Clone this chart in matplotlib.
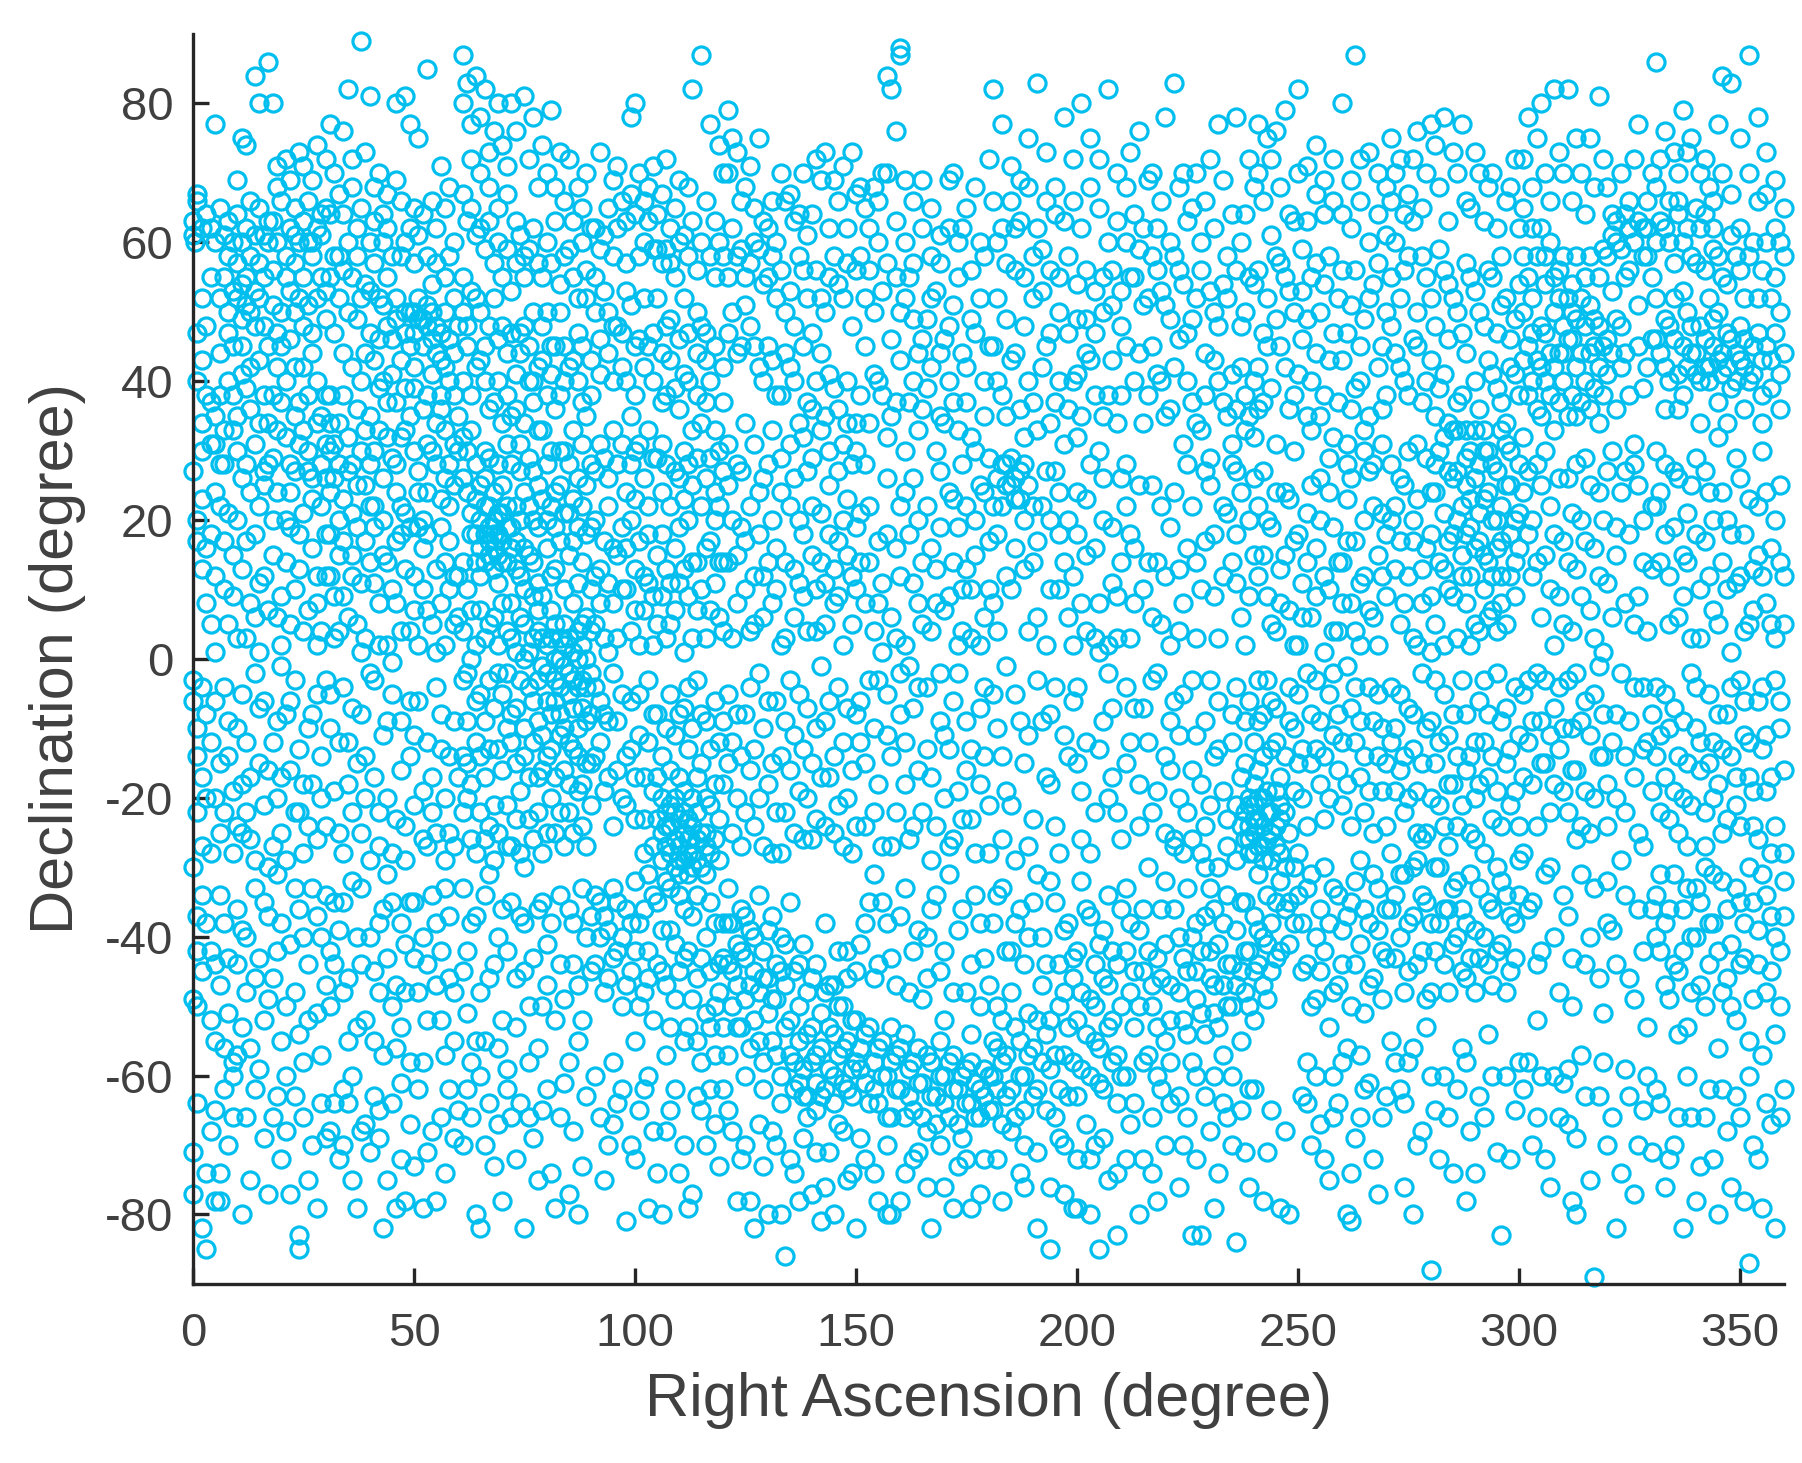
import matplotlib
matplotlib.use('Agg')
import matplotlib.pyplot as plt

# Star positions (RA, Dec) in degrees, grouped by 30 deg RA strips
stars_000 = [
    (0,61),(0,63),(1,66),(1,67),(2,62),(4,62),(7,61),(8,63),(9,60),(10,57),(12,62),(13,66),(14,61),(15,65),(16,61),
    (17,60),(18,63),(19,68),(17,86),(18,80),(19,71),(20,66),(21,72),(22,69),(23,65),(24,73),(25,71),(26,66),(27,69),
    (28,74),(29,64),(30,65),(31,77),(30,72),(11,75),(12,74),(10,69),(5,77),(14,84),(15,80),(24,60),(26,60),(28,62),
    (7,55),(9,53),(10,52),(12,55),(8,50),(11,49),(13,50),(14,48),(15,52),(16,55),(18,56),(19,47),(20,50),(22,53),
    (23,57),(24,52),(25,48),(26,51),(27,58),(29,55),(30,53),
    (1,47),(2,43),(3,38),(4,37),(5,35),(6,44),(8,40),(9,33),(10,30),(11,41),(12,39),(13,36),(14,31),(15,43),(16,38),
    (17,34),(18,29),(19,42),(20,37),(21,32),(22,46),(23,42),(24,37),(25,33),(26,30),(27,44),(28,40),(29,35),(30,31),
    (2,30),(5,31),(7,33),(11,45),(17,45),(25,42),
    (0,27),(1,20),(1,17),(2,13),(3,8),(4,18),(5,24),(6,22),(7,10),(8,5),(9,15),(10,20),(11,26),(12,3),(13,8),(14,18),
    (15,22),(16,12),(17,28),(18,20),(19,6),(20,2),(21,14),(22,24),(23,10),(24,18),(25,4),(26,27),(27,16),(28,8),
    (29,22),(30,12),(28,2),(5,1),(15,1),(22,19),(31,24),(30,26),(33,20),
    (0,-3),(0,-6),(1,-10),(2,-17),(1,-22),(2,-27),(3,-8),(4,-12),(5,-20),(6,-25),(7,-4),(8,-14),(9,-28),(10,-10),
    (11,-18),(12,-22),(13,-26),(14,-2),(15,-15),(16,-6),(17,-30),(18,-12),(19,-20),(20,-25),(21,-8),(22,-16),(23,-3),
    (24,-22),(25,-28),(26,-10),(27,-18),(28,-5),(29,-14),(30,-24),(11,-25),(20,-1),
    (0,-30),(2,-34),(1,-37),(2,-45),(0,-49),(1,-50),(4,-42),(5,-55),(6,-47),(7,-38),(8,-51),(9,-58),(10,-44),(11,-39),
    (12,-48),(13,-56),(14,-33),(15,-43),(16,-52),(17,-37),(18,-46),(19,-31),(20,-55),(22,-41),(23,-48),(24,-36),
    (25,-58),(26,-44),(27,-33),(28,-51),(29,-40),(30,-47),(9,-60),(10,-57),(21,-60),
    (0,-71),(0,-77),(2,-82),(3,-85),(5,-78),(6,-78),(3,-74),(5,-65),(7,-62),(8,-70),(12,-66),(13,-75),(16,-69),
    (19,-63),(20,-72),(24,-83),(24,-85),(25,-66),(27,-70),(29,-64),(22,-77),
    (0.5,60),(3,64),(5,60),(6,65),(8,58),(10,64),(11,60),(13,58),(15,57),(17,63),(19,60),(21,58),(22,62),(23,61),
    (25,63),(27,60),(29,61),(4,55),(6,52),(8,47),(9,45),(11,54),(12,51),(14,53),(16,48),(18,51),(20,45),(21,55),
    (23,50),(25,55),(27,47),(28,52),(30,49),(2,52),(3,48),
    (1,40),(2,34),(4,31),(6,38),(7,28),(9,38),(10,35),(12,28),(13,42),(15,34),(16,27),(18,38),(19,33),(21,40),(22,28),
    (23,35),(24,31),(26,38),(27,26),(28,34),(29,28),(30,38),
    (2,23),(3,16),(4,5),(5,12),(6,28),(7,17),(8,21),(9,9),(10,3),(11,13),(12,17),(13,24),(14,6),(15,11),(16,25),(17,7),
    (18,15),(19,24),(20,9),(21,20),(22,5),(23,27),(24,13),(25,21),(26,7),(27,23),(28,12),(29,4),(30,18),
    (1,-14),(2,-4),(3,-20),(4,-28),(5,-6),(6,-15),(7,-22),(8,-9),(9,-19),(10,-24),(11,-5),(12,-12),(13,-17),(14,-29),
    (15,-7),(16,-21),(17,-16),(18,-27),(19,-9),(20,-17),(21,-29),(22,-6),(23,-22),(24,-13),(25,-18),(26,-24),(27,-8),
    (28,-26),(29,-20),(30,-3),
    (1,-42),(3,-38),(4,-52),(5,-44),(6,-34),(7,-56),(8,-43),(10,-36),(11,-53),(12,-40),(14,-46),(15,-59),(16,-35),
    (17,-49),(19,-42),(20,-38),(21,-50),(23,-33),(24,-54),(25,-40),(26,-52),(28,-37),(29,-57),(30,-34),
    (1,-64),(4,-68),(6,-74),(9,-66),(11,-80),(14,-62),(17,-77),(18,-66),(21,-68),(23,-63),(26,-75),(28,-79),(30,-69),
]

stars_030 = [
    (38,89),(35,82),(40,81),(46,80),(48,81),(49,77),(51,75),(53,85),(36,72),(39,73),(42,70),(44,67),(47,66),(50,65),
    (52,64),(54,66),(56,71),(57,65),(59,60),(58,68),(33,67),(34,64),(37,62),(41,63),(43,60),(45,58),(48,60),(55,62),
    (32,58),(34,56),(36,55),(39,54),(41,57),(44,55),(46,52),(48,50),(50,50),(51,49),(52,49),(53,48),(54,50),(56,47),
    (58,46),(33,52),(35,50),(37,49),(40,47),(42,46),(44,48),(47,43),(49,45),(55,44),(57,42),(59,44),
    (31,38),(33,34),(35,32),(37,36),(38,30),(40,28),(42,33),(44,37),(45,29),(47,32),(49,35),(50,39),(51,27),(53,24),
    (54,30),(55,34),(57,26),(58,22),(59,31),(32,26),(34,23),(36,21),(39,25),(41,22),(43,20),(46,24),(48,21),(52,36),
    (56,38),(60,35),(38,40),(42,39),(45,41),(31,30),(35,27),(40,35),
    (31,18),(33,15),(34,9),(36,12),(37,5),(39,17),(41,11),(42,2),(44,14),(46,8),(47,18),(49,4),(50,12),(52,16),
    (53,7),(55,1),(56,19),(58,10),(59,5),(32,3),(38,1),(45,-0.5),(51,19),(57,14),
    (31,-5),(33,-12),(35,-18),(36,-7),(38,-25),(39,-14),(41,-3),(42,-22),(44,-9),(45,-28),(47,-16),(48,-24),(49,-6),
    (50,-11),(52,-19),(53,-27),(54,-22),(55,-4),(56,-13),(58,-25),(59,-9),(34,-28),(40,-29),(57,-29),
    (31,-42),(32,-35),(34,-48),(35,-55),(37,-40),(38,-33),(39,-52),(41,-45),(42,-38),(43,-57),(44,-31),(46,-47),
    (47,-53),(48,-41),(49,-35),(51,-48),(52,-58),(53,-44),(55,-38),(56,-52),(57,-33),(58,-46),(59,-55),(36,-60),
    (50,-43),(45,-50),
    (31,-68),(33,-72),(35,-64),(37,-79),(38,-68),(39,-67),(41,-63),(42,-65),(44,-75),(46,-79),(48,-78),(50,-73),
    (53,-71),(55,-78),(56,-66),(58,-62),(59,-69),(47,-61),(43,-82),(34,-62),
    (31,64),(32,70),(34,76),(36,68),(37,58),(38,65),(40,60),(41,68),(43,64),(44,62),(46,69),(47,58),(49,62),(50,57),
    (51,61),(53,58),(54,54),(55,57),(57,55),(58,58),(59,52),(60,48),(31,55),(33,58),(35,60),(38,52),(40,53),(42,52),
    (43,51),(45,46),(46,49),(48,47),(49,50),(50,47),(51,52),(52,45),(53,51),(54,46),(55,48),(56,43),(57,50),(58,40),
    (59,38),(32,47),(34,44),(36,42),(39,44),(41,43),(43,40),(46,37),(48,39),(50,42),(53,38),(54,41),(56,36),
    (31,34),(32,31),(33,28),(34,38),(36,28),(37,25),(39,33),(40,22),(41,30),(43,26),(44,32),(46,28),(47,22),(48,33),
    (50,30),(51,24),(52,20),(53,31),(55,28),(56,23),(57,33),(58,28),(59,25),(60,30),
    (31,12),(32,9),(33,4),(34,17),(35,6),(36,15),(37,19),(38,11),(39,3),(40,14),(41,19),(42,8),(43,15),(44,2),(45,10),
    (46,17),(47,4),(48,13),(49,19),(50,7),(51,2),(52,10),(53,18),(54,5),(55,13),(56,8),(57,2),(58,17),(59,12),(60,6),
    (31,-10),(32,-19),(33,-25),(34,-4),(35,-12),(36,-22),(37,-15),(38,-8),(39,-20),(40,-2),(41,-17),(42,-27),(43,-11),
    (44,-20),(45,-5),(46,-23),(47,-9),(48,-29),(49,-14),(50,-21),(51,-6),(52,-26),(53,-12),(54,-17),(55,-25),(56,-8),
    (57,-20),(58,-14),(59,-27),(60,-17),
    (31,-50),(32,-44),(33,-39),(34,-35),(35,-46),(36,-32),(37,-53),(38,-44),(40,-40),(41,-55),(42,-48),(43,-36),
    (44,-43),(45,-35),(46,-56),(47,-38),(48,-48),(49,-58),(50,-35),(52,-40),(53,-52),(54,-34),(55,-47),(56,-42),
    (57,-57),(58,-37),(59,-48),
    (32,-64),(34,-70),(36,-75),(40,-71),(42,-69),(45,-64),(47,-72),(49,-67),(51,-62),(52,-79),(54,-68),(57,-74),(60,-65),
]

stars_060 = [
    (61,87),(62,83),(64,84),(66,82),(68,76),(70,74),(72,80),(75,81),(77,78),(79,74),(81,79),(83,73),(85,72),(87,68),
    (89,70),(63,72),(65,70),(67,68),(69,65),(71,67),(73,63),(74,61),(76,59),(78,57),(80,60),(82,63),(84,58),(86,55),
    (88,60),(62,63),(64,61),(66,59),(68,57),(70,55),(72,53),(75,55),(77,50),(79,48),(81,45),(83,50),(85,42),(87,47),
    (89,52),(61,55),(63,53),(65,50),(67,48),(69,46),(71,44),(73,41),(74,47),(76,40),(78,42),(80,38),(82,36),(84,40),
    (86,33),(88,37),(90,43),(62,45),(64,42),(66,40),(68,37),(70,34),(72,35),
    (63,21),(64,18),(65,16),(65,20),(66,14),(66,18),(66,22),(67,15),(67,17),(67,19),(68,13),(68,16),(68,20),(68,24),
    (69,15),(69,18),(70,17),(70,21),(71,14),(71,19),(72,16),(73,22),(65,25),(64,28),(62,30),(61,26),(63,33),(66,30),
    (69,28),(71,31),(74,27),(75,24),(76,29),(77,20),(78,25),(79,33),(80,28),(81,22),(82,19),(83,25),(84,30),(85,21),
    (86,17),(87,26),(88,22),(89,18),(90,28),(74,12),(76,15),(78,11),(80,16),(82,13),(84,10),(61,14),(62,10),(63,7),
    (60,12),
    (64,2),(65,-5),(67,5),(69,-2),(70,8),(72,3),(73,-7),(74,6),(75,0),(76,-4),(77,9),(78,4),(79,-1),(80,2),(80,-6),
    (81,7),(82,0),(82,-3),(83,3),(83,-8),(84,-1),(84,5),(85,-2),(85,-5),(86,1),(86,8),(87,-4),(87,4),(88,-7),(88,2),
    (89,-9),(89,6),(90,-2),(61,-3),(62,-9),(71,-10),(78,-9),
    (61,-14),(62,-20),(63,-26),(64,-12),(66,-17),(67,-24),(68,-29),(69,-13),(71,-21),(72,-27),(73,-15),(74,-19),
    (76,-23),(77,-12),(78,-17),(79,-28),(80,-14),(81,-20),(82,-25),(83,-11),(84,-16),(85,-22),(86,-13),(87,-19),
    (88,-24),(89,-15),(90,-21),(65,-22),(75,-30),
    (61,-33),(62,-42),(64,-37),(65,-48),(66,-55),(67,-31),(68,-44),(69,-40),(70,-52),(72,-35),(73,-46),(75,-38),
    (76,-50),(77,-43),(79,-35),(80,-47),(81,-38),(83,-34),(84,-49),(85,-36),(86,-44),(87,-55),(88,-33),(89,-40),
    (90,-37),(63,-58),(71,-59),(78,-56),
    (62,-62),(64,-80),(65,-82),(67,-64),(69,-67),(71,-62),(73,-72),(75,-82),(77,-69),(79,-65),(81,-74),(83,-66),
    (85,-77),(87,-80),(89,-63),(66,-70),(74,-64),(84,-61),
    (61,80),(63,77),(65,78),(67,73),(69,80),(71,71),(73,76),(76,72),(78,68),(80,70),(82,68),(84,66),(86,63),(88,65),
    (90,62),(61,67),(63,65),(65,62),(67,63),(69,60),(71,59),(73,57),(75,58),(77,62),(79,55),(81,57),(83,54),(85,59),
    (87,52),(89,56),(61,50),(62,48),(64,52),(66,45),(68,52),(70,48),(72,47),(74,44),(75,48),(76,45),(77,40),(79,43),
    (80,50),(81,41),(82,45),(83,38),(84,45),(86,43),(87,40),(88,45),(89,35),(90,38),(61,40),(63,38),(65,43),(67,36),
    (69,40),(71,38),(73,36),(75,34),(77,37),(78,33),
    (61,32),(62,24),(63,18),(64,23),(64,14),(65,12),(66,26),(67,22),(67,29),(68,18),(69,21),(69,11),(70,14),(70,25),
    (71,22),(72,19),(72,28),(73,17),(73,13),(74,20),(74,31),(75,16),(75,10),(76,22),(77,27),(77,14),(78,19),(79,23),
    (79,9),(80,20),(81,12),(81,30),(82,24),(83,17),(83,30),(84,21),(85,15),(85,28),(86,23),(87,11),(87,19),(88,14),
    (88,31),(89,25),(90,10),(90,19),
    (61,4),(62,-2),(63,0),(64,-6),(65,7),(66,3),(66,-9),(67,-3),(68,6),(68,-7),(69,2),(70,-5),(71,4),(71,-2),(72,8),
    (72,-8),(73,1),(74,-3),(75,5),(75,-10),(76,1),(77,-6),(77,3),(78,-3),(78,7),(79,3),(79,-11),(80,-2),(81,-8),
    (81,3),(82,5),(82,-6),(83,-4),(83,0),(84,-10),(84,2),(85,3),(85,-12),(86,-3),(86,-7),(87,0),(87,-10),(88,5),
    (88,-3),(89,0),(89,-4),(90,4),(90,-8),
    (61,-22),(62,-15),(63,-18),(64,-28),(65,-14),(66,-26),(67,-13),(68,-21),(69,-25),(70,-16),(71,-27),(72,-12),
    (73,-23),(74,-28),(75,-14),(76,-17),(77,-26),(78,-22),(79,-16),(80,-25),(81,-13),(82,-17),(83,-22),(84,-27),
    (85,-18),(86,-25),(87,-14),(88,-18),(89,-27),(90,-15),
    (61,-45),(62,-51),(63,-38),(64,-55),(66,-34),(67,-46),(69,-56),(70,-36),(71,-42),(73,-53),(74,-37),(75,-45),
    (76,-58),(78,-36),(79,-50),(80,-41),(82,-52),(83,-44),(85,-58),(86,-38),(87,-47),(88,-52),(90,-45),
    (61,-70),(63,-66),(65,-60),(68,-73),(70,-78),(72,-66),(76,-66),(78,-75),(80,-62),(82,-79),(86,-68),(88,-73),
]

stars_090 = [
    (93,61),(95,58),(97,66),(99,78),(100,80),(101,70),(103,68),(104,59),(106,57),(108,62),(110,60),(112,68),(113,82),
    (115,87),(117,77),(119,74),(92,73),(96,71),(98,63),(102,60),(105,64),(107,59),(109,55),(111,52),(114,50),(116,47),
    (118,55),(120,58),(91,55),(94,50),(96,48),(98,53),(100,45),(102,42),(104,47),(106,44),(108,49),(110,36),(112,40),
    (114,38),(116,43),(118,33),(120,37),(92,46),(95,40),(97,42),(99,35),(101,31),(103,33),(105,29),(107,38),(109,27),
    (111,30),(113,25),(115,34),(117,29),(119,22),
    (91,20),(92,13),(93,17),(94,22),(95,8),(96,15),(97,19),(98,10),(99,4),(100,13),(101,17),(102,7),(103,11),(104,2),
    (105,15),(106,9),(107,13),(108,5),(109,16),(110,11),(111,1),(112,20),(113,14),(114,7),(115,22),(116,3),(117,17),
    (118,11),(119,6),(120,14),(94,1),(100,23),(106,24),(91,5),
    (91,-4),(92,-12),(93,-8),(94,-17),(95,-2),(96,-9),(97,-20),(98,-14),(99,-6),(100,-23),(101,-11),(102,-17),
    (103,-3),(104,-19),(105,-8),(106,-14),(107,-22),(108,-5),(109,-11),(110,-17),(111,-7),(112,-13),(113,-20),
    (114,-3),(115,-15),(116,-9),(117,-21),(118,-6),(119,-12),(120,-18),
    (106,-25),(107,-27),(108,-24),(108,-28),(109,-26),(109,-30),(110,-23),(110,-27),(111,-25),(111,-29),(112,-26),
    (112,-31),(113,-24),(113,-28),(114,-26),(115,-30),(116,-25),(117,-28),(104,-27),(103,-31),
    (91,-34),(92,-40),(93,-37),(94,-46),(95,-33),(96,-42),(97,-50),(98,-36),(99,-45),(100,-55),(101,-38),(102,-48),
    (103,-42),(104,-52),(105,-35),(106,-45),(107,-57),(108,-39),(109,-49),(110,-34),(111,-43),(112,-53),(113,-37),
    (114,-46),(115,-58),(116,-40),(117,-35),(118,-50),(119,-44),(120,-38),(95,-58),(100,-32),(117,-53),
    (92,-66),(94,-70),(96,-64),(98,-81),(100,-72),(102,-62),(104,-68),(106,-80),(108,-65),(110,-74),(112,-79),
    (114,-63),(116,-70),(118,-67),(120,-62),(103,-79),
    (91,62),(92,59),(94,65),(95,69),(96,62),(98,57),(99,67),(100,64),(101,58),(102,66),(103,63),(104,71),(105,59),
    (106,67),(107,72),(108,57),(109,65),(110,69),(111,61),(112,58),(113,63),(114,56),(115,60),(116,66),(117,58),
    (118,63),(119,60),(120,70),(91,50),(92,41),(93,53),(94,44),(95,48),(97,47),(98,40),(99,51),(100,38),(101,46),
    (102,52),(103,45),(104,40),(105,52),(106,37),(107,48),(108,43),(109,39),(110,46),(111,41),(112,47),(113,33),
    (114,44),(115,48),(116,37),(117,40),(118,45),(119,30),(120,42),
    (91,27),(92,31),(93,29),(94,26),(95,33),(96,28),(97,31),(98,24),(99,28),(100,30),(102,26),(103,22),(104,29),
    (106,31),(107,28),(108,22),(110,26),(111,23),(112,28),(114,29),(116,26),(118,24),(120,27),
    (91,12),(92,8),(93,3),(94,11),(95,16),(96,3),(97,10),(98,16),(99,20),(100,7),(101,2),(102,12),(103,18),(104,9),
    (105,5),(106,18),(107,3),(108,11),(109,7),(110,19),(111,13),(112,9),(113,3),(114,14),(115,10),(116,16),(117,7),
    (118,20),(119,14),(120,4),
    (91,-14),(92,-6),(93,-19),(94,-9),(95,-24),(96,-16),(97,-5),(98,-21),(99,-13),(100,-17),(101,-5),(102,-23),
    (103,-12),(104,-8),(105,-17),(106,-20),(107,-10),(108,-16),(109,-20),(110,-8),(111,-19),(112,-4),(113,-10),
    (114,-17),(115,-8),(116,-20),(117,-13),(118,-18),(119,-23),(120,-9),
    (105,-23),(106,-29),(107,-24),(107,-32),(108,-21),(109,-22),(110,-29),(110,-31),(111,-22),(112,-23),(112,-28),
    (113,-30),(114,-22),(114,-29),(115,-25),(116,-27),(116,-31),(118,-26),(119,-29),(102,-28),
    (91,-44),(92,-35),(93,-48),(94,-39),(95,-43),(96,-35),(97,-40),(98,-47),(99,-38),(100,-42),(101,-50),(102,-36),
    (103,-46),(104,-34),(105,-44),(106,-39),(107,-47),(108,-33),(108,-53),(109,-41),(110,-45),(111,-36),(111,-55),
    (112,-42),(113,-49),(114,-34),(114,-55),(115,-43),(116,-51),(117,-45),(118,-38),(118,-57),(119,-48),(120,-43),
    (120,-53),
    (91,-60),(93,-75),(95,-67),(97,-62),(99,-70),(101,-65),(103,-60),(105,-74),(107,-68),(109,-62),(111,-70),
    (113,-77),(115,-65),(117,-62),(119,-73),
]

stars_120 = [
    (121,79),(123,73),(125,68),(127,65),(129,63),(131,66),(133,70),(135,67),(137,64),(139,61),(141,72),(143,73),
    (145,69),(147,71),(149,73),(122,62),(124,59),(126,57),(128,59),(130,55),(132,52),(134,50),(136,48),(138,56),
    (140,47),(142,52),(144,55),(146,54),(148,57),(150,56),(121,47),(123,44),(125,51),(127,45),(129,40),(131,43),
    (133,38),(135,42),(137,34),(139,37),(141,40),(143,35),(145,39),(147,31),(149,28),
    (121,25),(122,20),(123,15),(124,27),(125,10),(126,22),(127,5),(128,18),(129,12),(130,28),(131,8),(132,16),
    (133,24),(134,3),(135,31),(136,13),(137,20),(138,9),(139,27),(140,15),(141,4),(142,21),(143,11),(144,25),(145,8),
    (146,17),(147,2),(148,23),(149,12),(150,19),
    (121,-5),(122,-12),(123,-20),(124,-27),(125,-8),(126,-16),(127,-24),(128,-2),(129,-10),(130,-18),(131,-28),
    (132,-6),(133,-14),(134,-22),(135,-3),(136,-11),(137,-19),(138,-26),(139,-7),(140,-15),(141,-23),(142,-1),
    (143,-9),(144,-17),(145,-25),(146,-4),(147,-12),(148,-20),(149,-28),(150,-8),
    (121,-33),(121,-44),(122,-38),(122,-50),(123,-41),(123,-47),(124,-36),(124,-53),(125,-43),(125,-49),(126,-39),
    (126,-56),(127,-45),(127,-52),(128,-34),(128,-48),(129,-42),(129,-58),(130,-46),(130,-51),(131,-37),(131,-55),
    (132,-44),(132,-49),(133,-40),(133,-60),(134,-47),(134,-53),(135,-35),(135,-57),(136,-45),(136,-62),(137,-50),
    (137,-55),(138,-41),(138,-59),(139,-48),(139,-63),(140,-53),(140,-58),(141,-44),(141,-61),(142,-51),(142,-56),
    (143,-38),(143,-62),(144,-47),(144,-59),(145,-54),(145,-64),(146,-42),(146,-57),(147,-50),(147,-61),(148,-46),
    (148,-55),(149,-59),(149,-63),(150,-52),(150,-45),
    (122,-68),(124,-72),(126,-78),(128,-67),(130,-80),(132,-70),(134,-86),(136,-74),(138,-69),(140,-77),(142,-81),
    (144,-71),(146,-67),(148,-75),(150,-82),
    (121,70),(122,75),(124,66),(126,71),(128,75),(130,62),(132,60),(134,66),(136,63),(138,70),(140,64),(142,69),
    (144,62),(146,66),(148,62),(150,67),(121,55),(123,58),(125,55),(127,60),(129,54),(131,58),(133,56),(135,53),
    (137,58),(139,52),(141,56),(143,50),(145,58),(147,52),(149,48),(122,50),(124,45),(126,48),(128,42),(130,45),
    (132,38),(134,44),(136,40),(138,45),(140,36),(142,44),(144,41),(146,36),(148,40),(150,34),
    (121,31),(123,28),(125,34),(127,31),(129,26),(131,33),(133,29),(136,26),(138,32),(140,29),(142,33),(144,30),
    (146,27),(148,34),(150,30),
    (121,14),(122,3),(123,8),(124,19),(125,17),(126,4),(127,12),(128,24),(129,6),(130,14),(131,20),(132,10),(133,2),
    (134,14),(135,22),(136,6),(137,11),(138,18),(139,4),(140,22),(141,10),(142,14),(143,5),(144,18),(145,13),(146,9),
    (147,20),(148,15),(149,5),(150,10),
    (121,-15),(122,-25),(123,-8),(124,-14),(125,-22),(126,-4),(127,-13),(128,-20),(129,-27),(130,-6),(131,-15),
    (132,-22),(133,-28),(134,-9),(135,-16),(136,-25),(137,-5),(138,-13),(139,-20),(140,-26),(141,-10),(142,-17),
    (143,-24),(144,-6),(145,-14),(146,-21),(147,-27),(148,-7),(149,-16),(150,-24),
    (121,-38),(122,-45),(123,-53),(124,-42),(125,-37),(126,-47),(127,-40),(128,-55),(129,-46),(130,-39),(131,-49),
    (132,-57),(133,-45),(134,-41),(135,-52),(136,-58),(137,-44),(138,-63),(139,-54),(140,-46),(141,-57),(142,-63),
    (143,-48),(144,-53),(145,-60),(146,-50),(147,-56),(148,-62),(149,-52),(150,-58),(121,-57),(125,-60),(129,-62),
    (133,-64),(137,-61),(141,-65),(145,-47),(148,-42),
    (121,-65),(123,-78),(125,-70),(127,-82),(129,-73),(131,-68),(133,-80),(135,-72),(137,-78),(139,-66),(141,-71),
    (143,-76),(145,-80),(147,-68),(149,-74),
]

stars_150 = [
    (152,65),(154,68),(156,70),(157,84),(158,82),(159,76),(161,69),(163,66),(165,62),(167,58),(169,61),(171,69),
    (172,70),(174,62),(176,56),(178,60),(180,72),(160,87),(160,88),(151,58),(153,56),(155,60),(157,57),(159,55),
    (161,52),(163,49),(165,46),(167,52),(169,44),(171,48),(173,55),(175,42),(177,47),(179,40),(152,45),(154,41),
    (156,38),(158,35),(160,43),(162,37),(164,33),(166,39),(168,30),(170,34),(172,37),(174,28),(176,32),(178,25),
    (180,29),
    (151,21),(153,14),(155,8),(157,18),(159,3),(161,24),(163,11),(165,5),(167,16),(169,27),(171,9),(173,2),(175,13),
    (177,20),(179,6),(152,28),(156,1),(160,12),(164,20),(168,8),(172,23),(176,3),(180,17),(174,10),
    (151,-6),(152,-15),(154,-22),(155,-3),(157,-11),(158,-27),(160,-8),(161,-18),(163,-24),(164,-4),(166,-13),
    (167,-29),(169,-9),(170,-20),(172,-26),(173,-2),(175,-16),(176,-23),(178,-7),(179,-14),(180,-28),(162,-1),
    (171,-13),
    (151,-41),(153,-35),(155,-44),(157,-38),(159,-47),(161,-33),(163,-42),(165,-49),(167,-36),(169,-45),(171,-31),
    (173,-39),(175,-48),(177,-34),(179,-43),(154,-31),(166,-40),(178,-50),
    (151,-56),(152,-61),(153,-53),(154,-58),(155,-64),(156,-55),(157,-60),(158,-66),(159,-57),(160,-62),(161,-54),
    (162,-59),(163,-65),(164,-56),(165,-61),(166,-68),(167,-58),(168,-63),(169,-55),(170,-60),(171,-66),(172,-57),
    (173,-62),(174,-69),(175,-59),(176,-64),(177,-61),(178,-66),(179,-63),(180,-60),(181,-65),(182,-62),(183,-67),
    (158,-53),(170,-52),(176,-54),
    (152,-72),(155,-78),(158,-80),(161,-74),(164,-71),(167,-82),(170,-76),(173,-73),(176,-79),(179,-72),(157,-80),
    (151,68),(153,62),(155,66),(157,70),(159,63),(161,60),(163,57),(165,69),(167,65),(169,57),(171,62),(173,60),
    (175,65),(177,68),(179,58),(152,52),(154,50),(156,53),(158,46),(160,50),(162,55),(164,44),(166,49),(168,53),
    (170,46),(172,51),(174,44),(176,49),(178,52),(180,45),(151,38),(153,34),(155,40),(157,32),(159,37),(161,30),
    (163,40),(165,36),(167,42),(169,35),(171,40),(173,33),(175,37),(177,30),(179,35),
    (151,14),(152,8),(153,22),(154,4),(155,17),(156,11),(157,26),(158,6),(159,16),(160,22),(161,2),(162,18),(163,26),
    (164,8),(165,14),(166,22),(167,4),(168,13),(169,19),(170,7),(171,24),(172,14),(173,19),(174,4),(175,22),(176,10),
    (177,15),(178,2),(179,24),(180,10),
    (151,-12),(152,-24),(153,-3),(154,-10),(155,-18),(156,-27),(157,-5),(158,-14),(159,-22),(160,-2),(161,-12),
    (162,-26),(163,-7),(164,-16),(165,-22),(166,-4),(167,-17),(168,-24),(169,-2),(170,-11),(171,-27),(172,-6),
    (173,-19),(174,-23),(175,-9),(176,-13),(177,-28),(178,-18),(179,-4),(180,-21),
    (152,-38),(154,-46),(156,-35),(158,-43),(160,-37),(162,-48),(164,-39),(166,-46),(168,-34),(170,-42),(172,-48),
    (174,-36),(176,-44),(178,-38),(180,-47),
    (151,-59),(152,-54),(153,-64),(154,-62),(155,-56),(156,-60),(157,-66),(158,-58),(159,-62),(160,-56),(161,-66),
    (162,-63),(163,-58),(164,-61),(165,-66),(166,-57),(167,-63),(168,-67),(169,-60),(170,-64),(171,-58),(172,-62),
    (173,-67),(174,-60),(175,-64),(176,-58),(177,-66),(178,-62),(179,-59),(180,-65),
    (151,-69),(154,-74),(157,-70),(160,-78),(163,-72),(166,-76),(169,-70),(172,-79),(175,-72),(178,-77),
]

stars_180 = [
    (181,82),(183,77),(185,71),(187,69),(189,75),(191,83),(193,66),(195,64),(197,78),(199,72),(201,80),(203,75),
    (205,65),(207,82),(209,63),(182,60),(184,57),(186,62),(188,55),(190,58),(192,53),(194,56),(196,50),(198,47),
    (200,54),(202,49),(204,53),(206,55),(208,51),(210,48),(181,45),(183,38),(185,43),(187,36),(189,40),(191,33),
    (193,45),(195,37),(197,31),(199,40),(200,41),(201,35),(203,43),(205,30),(207,38),(209,34),
    (182,26),(183,22),(184,28),(185,25),(186,23),(187,27),(188,20),(186,16),(184,12),(190,14),(192,22),(194,10),
    (196,18),(198,6),(200,24),(202,15),(204,3),(206,20),(208,11),(210,26),(181,8),(189,4),(195,27),(203,28),(207,2),
    (199,12),
    (181,-5),(183,-14),(185,-21),(187,-9),(189,-27),(191,-3),(193,-17),(195,-24),(197,-11),(199,-6),(201,-19),
    (203,-28),(205,-13),(207,-2),(209,-22),(186,-29),(194,-8),(200,-15),(208,-7),(184,-1),
    (181,-38),(183,-33),(185,-42),(187,-36),(189,-40),(191,-31),(193,-44),(195,-35),(197,-39),(199,-43),(201,-32),
    (203,-37),(205,-41),(207,-34),(209,-44),
    (181,-55),(182,-50),(183,-58),(184,-63),(185,-48),(186,-53),(187,-60),(188,-65),(189,-51),(190,-56),(191,-62),
    (192,-47),(193,-54),(194,-59),(195,-66),(196,-50),(197,-57),(198,-63),(199,-46),(200,-52),(201,-59),(202,-67),
    (203,-49),(204,-55),(205,-61),(206,-46),(207,-53),(208,-58),(209,-64),(210,-50),(188,-70),(196,-69),(204,-70),
    (183,-78),(187,-74),(191,-82),(194,-85),(197,-77),(200,-72),(203,-80),(205,-85),(207,-75),(209,-83),(199,-79),
    (181,66),(183,62),(185,66),(187,63),(189,68),(191,62),(193,73),(195,68),(197,63),(199,66),(201,62),(203,68),
    (205,72),(207,60),(209,70),(182,52),(184,49),(186,56),(188,48),(190,52),(192,59),(194,47),(196,55),(198,58),
    (200,49),(202,56),(204,47),(206,50),(208,56),(210,53),(182,40),(184,35),(186,44),(188,32),(190,37),(192,42),
    (194,34),(196,40),(198,36),(200,32),(202,44),(204,38),(206,35),(208,43),(210,38),
    (181,22),(182,18),(183,28),(184,25),(185,29),(186,26),(187,23),(188,28),(189,25),(190,22),(191,17),(193,27),
    (194,20),(196,24),(197,14),(198,20),(200,18),(201,8),(202,23),(204,16),(205,8),(206,26),(208,19),(209,9),
    (210,14),(182,4),(185,10),(188,13),(191,6),(193,2),(196,10),(199,2),(202,4),(205,1),(209,3),
    (182,-10),(184,-19),(186,-5),(188,-15),(190,-23),(192,-9),(194,-18),(196,-28),(198,-14),(200,-4),(202,-12),
    (204,-22),(206,-9),(208,-17),(210,-26),(183,-26),(189,-11),(195,-4),(201,-26),(207,-20),
    (182,-34),(184,-42),(186,-38),(188,-44),(190,-35),(192,-40),(194,-32),(196,-44),(198,-38),(200,-42),(202,-36),
    (204,-44),(206,-39),(208,-42),(210,-36),
    (181,-60),(182,-56),(183,-52),(184,-57),(185,-62),(186,-66),(187,-55),(188,-60),(189,-57),(190,-63),(191,-52),
    (192,-58),(193,-65),(194,-52),(195,-57),(196,-62),(197,-48),(198,-53),(199,-58),(200,-63),(201,-48),(202,-54),
    (203,-60),(204,-50),(205,-56),(206,-62),(207,-47),(208,-52),(209,-57),(210,-60),
    (182,-72),(185,-68),(188,-76),(191,-71),(194,-76),(197,-70),(200,-79),(203,-72),(206,-69),(209,-74),
]

stars_210 = [
    (211,60),(212,73),(214,76),(216,69),(218,62),(220,78),(222,83),(224,70),(226,65),(228,60),(230,72),(232,77),
    (234,58),(236,78),(238,64),(240,68),(213,55),(215,51),(217,58),(219,53),(221,49),(223,56),(225,47),(227,52),
    (229,44),(231,50),(233,54),(235,41),(237,48),(239,55),(214,44),(216,38),(218,41),(220,35),(222,42),(224,31),
    (226,37),(228,33),(230,29),(232,40),(234,35),(236,27),(238,38),(240,32),(241,36),(242,37),
    (211,22),(213,16),(215,10),(217,25),(219,5),(221,19),(223,13),(225,28),(227,3),(229,17),(231,9),(233,22),
    (235,14),(237,6),(239,20),(240,15),(212,3),(218,14),(224,8),(230,25),(236,18),(238,2),
    (211,-4),(212,-12),(214,-18),(215,-7),(217,-22),(218,-2),(220,-14),(221,-9),(223,-20),(224,-5),(226,-16),
    (227,-11),(229,-24),(230,-3),(232,-13),(233,-19),(235,-8),(236,-21),(238,-15),(239,-6),(240,-18),
    (211,-42),(212,-48),(213,-53),(214,-39),(215,-45),(216,-57),(217,-50),(218,-43),(219,-36),(220,-55),(221,-47),
    (222,-27),(223,-40),(224,-52),(225,-33),(225,-45),(226,-58),(227,-38),(227,-49),(228,-42),(229,-54),(229,-30),
    (230,-46),(231,-36),(231,-51),(232,-41),(233,-47),(233,-57),(234,-34),(234,-44),(235,-50),(236,-39),(236,-29),
    (237,-45),(237,-55),(238,-35),(238,-48),(239,-42),(239,-26),(240,-37),(240,-52),(241,-31),(241,-44),(242,-27),
    (242,-40),(243,-34),(243,-49),(244,-29),(244,-38),(245,-24),(245,-43),(246,-32),(246,-28),(247,-36),(248,-25),
    (248,-41),(249,-30),(250,-34),(222,-26),(224,-28),(216,-30),(220,-32),
    (212,-67),(215,-72),(218,-78),(221,-64),(224,-70),(226,-83),(228,-83),(230,-68),(232,-74),(234,-66),(236,-84),
    (238,-71),(240,-62),(242,-78),(244,-65),(246,-79),(248,-80),(218,-60),
    (211,68),(213,64),(215,62),(217,70),(219,66),(221,60),(223,68),(225,63),(227,70),(229,66),(231,62),(233,69),
    (235,64),(237,60),(239,72),(212,55),(214,59),(216,52),(218,56),(220,51),(222,58),(224,54),(226,49),(228,56),
    (230,53),(232,48),(234,52),(236,56),(238,50),(240,54),(211,45),(213,40),(215,34),(217,45),(219,40),(221,36),
    (223,46),(225,40),(227,34),(229,38),(231,43),(233,37),(235,31),(237,42),(239,35),(240,40),(236,36),(238,33),
    (211,28),(212,18),(214,25),(216,14),(217,6),(219,22),(220,12),(222,24),(223,4),(225,16),(226,22),(228,10),
    (229,27),(231,18),(232,3),(234,21),(235,28),(236,11),(237,24),(239,9),(240,26),(213,8),(221,2),(227,14),(233,12),
    (211,-15),(213,-7),(214,-24),(216,-12),(217,-3),(218,-19),(220,-25),(221,-16),(222,-6),(223,-11),(225,-22),
    (226,-3),(228,-18),(229,-9),(230,-21),(231,-14),(232,-6),(234,-23),(235,-12),(236,-4),(237,-17),(238,-9),
    (239,-20),(240,-12),
    (211,-33),(212,-38),(213,-45),(214,-50),(215,-36),(216,-42),(217,-47),(218,-53),(219,-46),(220,-41),(221,-52),
    (222,-36),(223,-48),(224,-43),(225,-54),(226,-40),(227,-45),(228,-51),(229,-37),(230,-42),(231,-47),(232,-53),
    (233,-38),(234,-50),(235,-44),(236,-47),(237,-35),(238,-42),(239,-50),(240,-45),(241,-39),(242,-47),(243,-41),
    (244,-45),(245,-35),(246,-42),(247,-30),(248,-35),(249,-38),(250,-28),(226,-26),(228,-28),(230,-33),(232,-30),
    (234,-27),
    (211,-60),(213,-64),(215,-58),(217,-66),(219,-62),(221,-58),(223,-63),(225,-66),(227,-60),(229,-63),(231,-60),
    (233,-64),(235,-60),(237,-65),(239,-62),
    (211,-72),(214,-80),(217,-74),(220,-70),(223,-76),(227,-72),(231,-79),(235,-70),(239,-76),(243,-71),(247,-68),
]

stars_240 = [
    (241,77),(243,75),(245,76),(247,79),(250,82),(252,71),(254,67),(256,64),(258,66),(260,80),(262,69),(263,87),
    (264,72),(266,73),(268,70),(270,61),(244,61),(246,57),(248,53),(249,63),(251,59),(253,55),(255,50),(257,58),
    (259,52),(261,47),(263,56),(265,49),(267,54),(269,45),(243,45),(245,49),(247,42),(249,38),(251,46),(253,40),
    (255,35),(257,43),(259,37),(261,31),(263,39),(265,33),(267,28),(269,36),
    (241,22),(242,15),(243,9),(244,19),(245,4),(246,13),(247,24),(248,7),(249,17),(250,2),(251,11),(252,21),(253,6),
    (254,16),(255,26),(256,1),(257,10),(258,19),(259,4),(260,14),(261,23),(262,8),(263,17),(264,2),(265,12),(266,27),
    (267,6),(268,15),(269,21),(270,9),
    (241,-3),(241,-9),(242,-14),(243,-19),(244,-6),(245,-12),(246,-17),(247,-22),(248,-4),(249,-10),(250,-15),
    (251,-20),(252,-2),(253,-8),(254,-13),(255,-18),(256,-23),(257,-5),(258,-11),(259,-16),(260,-21),(261,-1),
    (262,-7),(263,-12),(264,-17),(265,-22),(266,-4),(267,-9),(268,-14),(269,-19),(270,-24),
    (238,-22),(239,-24),(240,-21),(240,-25),(241,-23),(241,-27),(242,-20),(242,-24),(243,-26),(244,-22),(239,-28),
    (245,-19),
    (251,-38),(252,-44),(253,-31),(254,-49),(255,-36),(256,-42),(257,-53),(258,-33),(259,-47),(260,-39),(261,-56),
    (262,-35),(263,-44),(264,-29),(265,-51),(266,-38),(267,-46),(268,-33),(269,-42),(270,-36),(252,-58),(258,-60),
    (264,-57),
    (251,-63),(253,-70),(255,-67),(257,-75),(259,-64),(261,-80),(263,-69),(265,-62),(267,-72),(269,-66),(262,-81),
    (241,70),(242,66),(244,72),(246,68),(248,64),(250,70),(252,63),(254,74),(256,69),(258,72),(260,64),(262,62),
    (264,66),(266,60),(268,64),(270,68),(241,56),(243,52),(245,58),(247,55),(249,50),(251,53),(252,49),(254,57),
    (256,54),(258,47),(260,56),(262,51),(264,45),(266,52),(268,57),(270,50),(241,42),(242,47),(244,39),(246,45),
    (248,36),(250,41),(252,35),(254,44),(256,38),(258,32),(260,43),(262,36),(264,40),(266,35),(268,42),(270,38),
    (245,31),(249,30),(253,33),(257,29),(261,28),(265,30),(269,31),
    (241,12),(242,27),(243,20),(244,5),(245,24),(246,8),(247,15),(248,23),(249,2),(250,18),(251,6),(252,14),(253,25),
    (254,9),(255,20),(256,12),(257,24),(258,4),(259,14),(260,8),(261,17),(262,26),(263,4),(264,11),(265,20),(266,7),
    (267,22),(268,2),(269,12),(270,18),
    (241,-16),(242,-8),(243,-3),(244,-13),(245,-7),(246,-21),(247,-14),(248,-9),(249,-19),(250,-5),(251,-13),
    (252,-24),(253,-15),(254,-3),(255,-9),(256,-14),(257,-20),(258,-2),(259,-8),(260,-12),(261,-18),(262,-24),
    (263,-4),(264,-9),(265,-14),(266,-19),(267,-25),(268,-5),(269,-10),(270,-15),
    (237,-24),(238,-26),(239,-21),(240,-23),(240,-28),(241,-20),(242,-29),(243,-22),(244,-25),(245,-27),(246,-23),
    (251,-45),(252,-33),(253,-50),(254,-40),(255,-45),(256,-30),(257,-38),(258,-48),(259,-34),(260,-44),(261,-37),
    (262,-50),(263,-32),(264,-41),(265,-36),(266,-47),(267,-31),(268,-39),(269,-49),(270,-43),
    (252,-64),(254,-60),(256,-72),(258,-66),(260,-58),(262,-74),(264,-66),(266,-61),(268,-77),(270,-63),
]

stars_270 = [
    (271,75),(273,72),(275,67),(277,76),(279,70),(281,74),(283,78),(285,73),(287,77),(289,65),(291,70),(293,68),
    (295,62),(297,66),(299,72),(272,60),(274,56),(276,63),(278,58),(280,52),(282,59),(284,54),(286,50),(288,57),
    (290,53),(292,48),(294,55),(296,51),(298,46),(300,54),(271,48),(273,42),(275,38),(277,45),(279,40),(281,35),
    (283,41),(285,33),(287,38),(289,30),(291,36),(293,43),(295,39),(297,34),(299,41),
    (271,28),(272,22),(273,17),(274,25),(275,12),(276,20),(277,31),(278,8),(279,16),(280,24),(281,28),(281,5),
    (282,14),(283,21),(283,32),(284,10),(285,18),(285,26),(286,33),(286,3),(287,15),(287,22),(288,29),(288,8),
    (289,19),(289,12),(290,26),(290,33),(291,17),(291,4),(292,23),(292,10),(293,14),(293,30),(294,20),(294,7),
    (295,27),(295,16),(296,12),(296,22),(297,31),(297,5),(298,18),(298,25),(299,9),(299,14),(300,21),(300,28),
    (276,3),(280,1),
    (271,-4),(272,-10),(273,-16),(274,-22),(275,-7),(276,-13),(277,-19),(278,-2),(279,-25),(280,-9),(281,-15),
    (282,-21),(283,-5),(284,-11),(285,-18),(286,-24),(287,-3),(288,-8),(289,-14),(290,-20),(291,-6),(292,-12),
    (293,-17),(294,-23),(295,-2),(296,-9),(297,-15),(298,-21),(299,-4),(300,-11),
    (271,-28),(272,-34),(273,-40),(274,-31),(275,-45),(276,-37),(277,-29),(278,-42),(279,-35),(280,-48),(281,-30),
    (282,-38),(283,-44),(284,-27),(285,-33),(286,-40),(287,-36),(288,-46),(289,-31),(290,-39),(291,-43),(292,-28),
    (293,-35),(294,-47),(295,-30),(296,-41),(297,-34),(298,-45),(299,-38),(300,-29),(278,-26),(284,-36),(290,-26),
    (271,-55),(273,-62),(275,-58),(277,-70),(279,-53),(281,-65),(283,-60),(284,-66),(285,-74),(287,-56),(289,-68),
    (291,-63),(293,-54),(295,-71),(297,-60),(299,-65),(280,-88),(276,-80),(288,-78),(296,-83),(274,-76),
    (271,66),(272,70),(274,64),(276,72),(278,65),(280,77),(282,68),(284,63),(286,70),(288,66),(290,73),(292,63),
    (294,70),(296,58),(298,68),(300,62),(271,55),(273,52),(275,58),(277,50),(279,55),(281,48),(283,56),(285,52),
    (287,47),(289,55),(291,50),(293,56),(295,47),(297,52),(299,49),(272,44),(274,40),(276,46),(278,37),(280,43),
    (282,39),(284,46),(286,37),(288,44),(290,40),(292,33),(294,41),(296,37),(298,42),(300,38),(284,34),(288,33),
    (296,33),
    (271,20),(272,13),(273,26),(274,8),(275,30),(276,17),(277,23),(278,13),(279,29),(280,9),(280,18),(281,24),
    (282,30),(283,13),(284,27),(284,17),(285,9),(286,20),(286,27),(287,12),(288,18),(288,25),(289,23),(290,16),
    (290,5),(291,28),(291,21),(292,15),(292,30),(293,6),(293,24),(294,12),(294,28),(295,20),(296,8),(296,17),
    (297,25),(298,12),(298,30),(299,20),(300,16),(273,5),(277,2),(283,2),(289,2),(295,4),
    (271,-12),(272,-19),(273,-5),(274,-14),(275,-20),(276,-8),(277,-25),(278,-15),(279,-10),(280,-20),(281,-3),
    (282,-12),(283,-24),(284,-18),(285,-8),(286,-14),(287,-21),(288,-16),(289,-25),(290,-12),(291,-18),(292,-3),
    (293,-8),(294,-14),(295,-19),(296,-24),(297,-7),(298,-13),(299,-19),(300,-24),
    (271,-36),(272,-43),(273,-31),(274,-48),(275,-38),(276,-30),(277,-44),(278,-34),(279,-49),(280,-38),(281,-42),
    (282,-30),(283,-36),(284,-48),(285,-41),(286,-32),(287,-45),(288,-38),(289,-43),(290,-48),(291,-33),(292,-40),
    (293,-44),(294,-36),(295,-42),(296,-32),(297,-48),(298,-37),(299,-43),(300,-34),
    (272,-58),(274,-64),(276,-56),(278,-68),(280,-60),(282,-72),(286,-62),(288,-58),(290,-74),(292,-66),(294,-60),
    (298,-72),(300,-58),
]

stars_300 = [
    (301,65),(302,78),(303,62),(305,80),(306,70),(308,82),(309,73),(311,82),(312,66),(314,70),(316,75),(318,81),
    (320,68),(322,60),(324,64),(326,72),(328,62),(330,70),(304,58),(306,54),(307,60),(309,56),(311,52),(313,58),
    (315,55),(317,49),(319,59),(321,53),(323,48),(325,56),(327,51),(329,58),(301,50),(302,45),(303,40),(304,36),
    (305,42),(306,47),(307,38),(308,33),(309,44),(310,40),(311,35),(312,46),(313,42),(314,37),(315,48),(316,44),
    (317,39),(318,34),(319,45),(320,41),(322,36),(324,44),(326,31),(328,39),(330,46),(310,48),(313,49),(308,50),
    (301,24),(302,18),(303,12),(304,28),(305,6),(306,15),(307,22),(308,2),(309,9),(310,17),(311,26),(312,4),
    (313,13),(314,20),(315,29),(316,7),(317,16),(318,24),(319,1),(320,11),(322,19),(324,27),(326,5),(328,14),
    (330,22),(321,30),(327,25),
    (301,-5),(302,-12),(303,-18),(304,-2),(305,-9),(306,-15),(307,-22),(308,-7),(309,-13),(310,-19),(311,-3),
    (312,-10),(313,-16),(314,-24),(315,-6),(316,-11),(317,-20),(318,-1),(319,-14),(320,-18),(322,-8),(324,-22),
    (326,-4),(328,-13),(330,-19),
    (301,-28),(303,-35),(305,-42),(307,-30),(309,-48),(311,-37),(313,-26),(315,-44),(317,-33),(319,-51),(321,-39),
    (323,-29),(325,-46),(327,-36),(329,-53),(304,-52),(312,-43),(320,-32),(328,-27),
    (302,-58),(304,-66),(306,-72),(308,-60),(310,-61),(311,-67),(312,-78),(314,-57),(316,-75),(317,-89),(318,-63),
    (320,-70),(322,-82),(324,-59),(326,-77),(328,-65),(330,-71),(313,-80),
    (301,72),(303,68),(304,75),(307,66),(310,70),(313,75),(315,64),(317,68),(319,72),(321,64),(323,70),(325,66),
    (327,77),(329,66),(301,58),(302,55),(303,52),(305,62),(306,58),(308,55),(310,58),(312,54),(314,52),(316,58),
    (318,55),(320,58),(321,61),(322,63),(323,59),(324,55),(325,62),(326,60),(327,63),(328,58),(329,62),(330,55),
    (301,43),(302,38),(303,47),(304,43),(305,35),(306,40),(307,44),(308,42),(309,37),(310,44),(311,46),(312,38),
    (313,35),(314,44),(315,40),(316,36),(317,45),(318,42),(319,38),(320,46),(321,44),(322,49),(323,42),(325,38),
    (327,45),(329,42),(305,48),(309,52),(312,50),(316,51),(318,48),
    (301,32),(302,27),(303,20),(304,14),(305,25),(306,30),(307,10),(308,18),(309,26),(310,5),(311,14),(312,21),
    (313,28),(314,9),(315,17),(316,25),(317,3),(318,12),(319,20),(320,27),(321,6),(322,15),(323,24),(324,8),
    (325,18),(326,28),(327,9),(328,20),(329,4),(330,13),
    (301,-17),(302,-3),(303,-9),(304,-24),(305,-15),(306,-3),(307,-11),(308,-18),(309,-4),(310,-10),(311,-22),
    (312,-16),(313,-2),(314,-9),(315,-19),(316,-25),(317,-5),(318,-14),(319,-8),(320,-24),(321,-12),(322,-20),
    (323,-2),(324,-14),(325,-9),(326,-17),(327,-25),(328,-4),(329,-12),(330,-8),
    (302,-36),(304,-44),(306,-31),(308,-40),(310,-34),(312,-50),(314,-31),(316,-40),(318,-46),(320,-38),(322,-44),
    (324,-34),(326,-49),(328,-42),(330,-36),
    (301,-62),(303,-70),(305,-60),(307,-76),(309,-66),(311,-59),(313,-69),(315,-63),(319,-58),(321,-66),(323,-74),
    (325,-63),(327,-70),(329,-60),
]

stars_330 = [
    (331,86),(333,76),(335,73),(337,79),(339,75),(341,70),(343,68),(345,77),(346,84),(348,83),(350,75),(352,87),
    (354,78),(356,73),(358,69),(360,65),(332,63),(334,60),(336,66),(338,62),(340,57),(342,64),(344,59),(346,55),
    (348,61),(350,56),(352,58),(354,52),(356,60),(358,55),(359,50),(331,52),(333,49),(335,46),(337,53),(338,42),
    (339,48),(340,44),(341,40),(342,46),(343,42),(344,49),(345,43),(346,41),(347,47),(348,39),(349,44),(350,48),
    (351,42),(353,45),(355,38),(357,43),(359,36),(334,40),(336,36),(345,37),
    (331,30),(332,24),(333,18),(334,12),(335,27),(336,6),(337,15),(338,21),(339,3),(340,29),(341,10),(342,17),
    (343,24),(344,7),(345,32),(346,14),(347,20),(348,1),(349,11),(350,26),(351,18),(352,5),(353,13),(354,22),
    (355,30),(356,8),(357,16),(358,3),(359,25),(360,12),
    (331,-4),(332,-11),(333,-17),(334,-23),(335,-7),(336,-14),(337,-20),(338,-27),(339,-2),(340,-10),(341,-16),
    (342,-22),(343,-5),(344,-12),(345,-18),(346,-25),(347,-8),(348,-14),(349,-21),(350,-3),(351,-11),(352,-17),
    (353,-24),(354,-6),(355,-13),(356,-19),(357,-28),(358,-3),(359,-10),(360,-16),
    (331,-34),(332,-42),(333,-38),(334,-49),(335,-31),(336,-45),(337,-36),(338,-53),(339,-40),(340,-33),(341,-47),
    (342,-30),(343,-44),(344,-38),(345,-56),(346,-32),(347,-46),(348,-41),(349,-52),(350,-35),(351,-43),(352,-30),
    (353,-49),(354,-39),(355,-57),(356,-34),(357,-45),(358,-40),(359,-50),(360,-37),
    (332,-64),(333,-76),(335,-70),(337,-82),(339,-66),(341,-73),(343,-62),(345,-80),(347,-68),(349,-63),(351,-78),
    (352,-87),(353,-70),(355,-79),(356,-64),(358,-82),(359,-66),
    (331,68),(332,72),(334,66),(336,70),(338,73),(340,65),(342,72),(344,66),(346,70),(348,67),(350,62),(352,70),
    (354,66),(356,67),(358,62),(360,58),(331,60),(333,62),(335,57),(336,64),(337,60),(339,58),(341,62),(342,56),
    (343,52),(344,62),(345,58),(347,54),(349,58),(351,52),(353,60),(355,56),(357,52),(359,60),(331,46),(332,44),
    (333,42),(334,48),(335,52),(336,41),(337,45),(338,50),(339,44),(340,41),(341,48),(342,42),(343,40),(344,45),
    (345,50),(346,44),(347,42),(348,46),(349,40),(350,43),(351,46),(352,40),(353,41),(354,47),(355,43),(356,45),
    (357,39),(358,47),(360,44),(333,36),(337,38),(341,34),(347,34),(351,36),(355,34),(359,41),
    (331,22),(332,14),(333,28),(334,5),(335,19),(336,26),(337,9),(338,14),(339,25),(340,18),(341,3),(342,27),
    (343,12),(344,20),(345,5),(346,24),(347,10),(348,18),(349,29),(350,12),(351,4),(352,23),(353,7),(354,15),
    (355,12),(356,24),(357,5),(358,20),(359,14),(360,5),
    (331,-14),(332,-22),(333,-5),(334,-10),(335,-19),(336,-25),(337,-9),(338,-15),(339,-21),(340,-4),(341,-12),
    (342,-27),(343,-15),(344,-20),(345,-8),(346,-13),(347,-23),(348,-4),(349,-17),(350,-24),(351,-6),(352,-12),
    (353,-19),(354,-26),(355,-4),(356,-11),(357,-17),(358,-24),(359,-6),(360,-28),
    (331,-40),(332,-31),(333,-47),(334,-36),(335,-44),(336,-54),(337,-42),(338,-33),(339,-48),(340,-40),(341,-35),
    (342,-50),(343,-38),(344,-31),(345,-42),(346,-48),(347,-36),(348,-50),(349,-33),(350,-44),(351,-38),(352,-55),
    (353,-35),(354,-44),(355,-31),(356,-48),(357,-37),(358,-54),(359,-42),(360,-32),
    (331,-62),(334,-72),(336,-66),(338,-60),(340,-78),(342,-66),(344,-72),(346,-62),(348,-76),(350,-66),(352,-60),
    (354,-72),(357,-67),(360,-62),
]

x_ticks = [0, 50, 100, 150, 200, 250, 300, 350]
y_ticks = [-80, -60, -40, -20, 0, 20, 40, 60, 80]

all_stars = (stars_000 + stars_030 + stars_060 + stars_090 + stars_120 + stars_150 +
             stars_180 + stars_210 + stars_240 + stars_270 + stars_300 + stars_330)
ra = [p[0] for p in all_stars]
dec = [p[1] for p in all_stars]

plt.rcParams['font.family'] = ['Liberation Sans', 'DejaVu Sans']
plt.rcParams['axes.unicode_minus'] = False

fig = plt.figure(figsize=(18.02, 14.63), dpi=100)
ax = fig.add_axes([0.1071, 0.1224, 0.883, 0.8544])

ax.plot(ra, dec, 'o', mfc='none', mec='#00BEEE', ms=12.3, mew=2.3, clip_on=False)

ax.set_xlim(0, 360)
ax.set_ylim(-90, 90)
ax.set_xticks(x_ticks)
ax.set_yticks(y_ticks)

for side in ['top', 'right']:
    ax.spines[side].set_visible(False)
for side in ['left', 'bottom']:
    ax.spines[side].set_linewidth(2.4)
    ax.spines[side].set_color('#262626')

ax.tick_params(direction='in', length=11.5, width=2.4, color='#262626',
               labelsize=34, labelcolor='#404040')
ax.tick_params(axis='x', pad=20)
ax.tick_params(axis='y', pad=14)

ax.set_xlabel('Right Ascension (degree)', fontsize=44, color='#404040', labelpad=12)
ax.set_ylabel('Declination (degree)', fontsize=44, color='#404040', labelpad=14)

plt.savefig('out.png', dpi=100)
